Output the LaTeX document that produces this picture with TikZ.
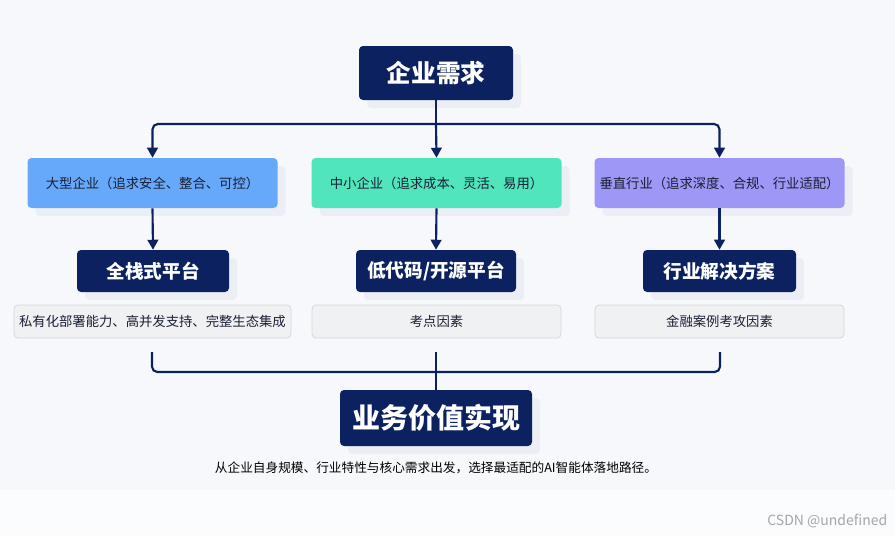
\documentclass[tikz,border=0pt]{standalone}
\usepackage{fontspec}
\setmainfont{Noto Sans CJK SC}
\usetikzlibrary{arrows.meta,shadows}
\definecolor{navy}{RGB}{12,33,96}
\definecolor{bgc}{RGB}{246,248,251}
\definecolor{bluebox}{RGB}{102,169,250}
\definecolor{greenbox}{RGB}{80,229,186}
\definecolor{purplebox}{RGB}{157,151,245}
\definecolor{graybox}{RGB}{240,241,243}
\definecolor{grayline}{RGB}{212,215,220}
\definecolor{txtdark}{RGB}{26,31,54}
\begin{document}
\begin{tikzpicture}[x=0.75pt,y=-0.75pt,
  softshadow/.style={general shadow={fill=black!60!blue,opacity=0.04,shadow xshift=6pt,shadow yshift=-6pt}},
  darkbox/.style={draw=none,fill=navy,rounded corners=3pt,text=white,font=\bfseries,inner sep=0pt,softshadow},
  colbox/.style={draw=none,rounded corners=3pt,text=txtdark,font=\fontsize{10pt}{12pt}\selectfont,minimum width=187.5pt,minimum height=37.5pt,inner sep=0pt,softshadow},
  graybx/.style={draw=grayline,line width=0.6pt,fill=graybox,rounded corners=3pt,text=txtdark,font=\fontsize{10pt}{12pt}\selectfont,minimum height=24.75pt,inner sep=0pt},
  conn/.style={draw=navy,line width=1.6pt,rounded corners=4pt},
  arr/.style={conn,-{Triangle[length=7.5pt,width=8pt]}}
]
\useasboundingbox (0,0) rectangle (895,536);
\fill[bgc] (0,0) rectangle (895,536);
\fill[white,opacity=0.6] (0,490) rectangle (895,536);

% top
\node[darkbox,minimum width=115.5pt,minimum height=40.5pt,font=\bfseries\fontsize{18.5pt}{20pt}\selectfont] (top) at (436,73) {企业需求};

% colored boxes
\node[colbox,fill=bluebox] (b1) at (152.5,183) {大型企业（追求安全、整合、可控）};
\node[colbox,fill=greenbox] (b2) at (436.5,183) {中小企业（追求成本、灵活、易用）};
\node[colbox,fill=purplebox] (b3) at (719.5,183) {垂直行业（追求深度、合规、行业适配）};

% dark platform boxes
\node[darkbox,minimum width=114pt,minimum height=31.5pt,font=\bfseries\fontsize{14pt}{16pt}\selectfont] (p1) at (153,271) {全栈式平台};
\node[darkbox,minimum width=120pt,minimum height=31.5pt,font=\bfseries\fontsize{14pt}{16pt}\selectfont] (p2) at (436,271) {低代码/开源平台};
\node[darkbox,minimum width=114.75pt,minimum height=31.5pt,font=\bfseries\fontsize{14pt}{16pt}\selectfont] (p3) at (719.5,271) {行业解决方案};

% gray boxes
\node[graybx,minimum width=207.75pt] (g1) at (152.5,321.5) {私有化部署能力、高并发支持、完整生态集成};
\node[graybx,minimum width=186.75pt] (g2) at (436.5,321.5) {考点因素};
\node[graybx,minimum width=186.75pt] (g3) at (719.5,321.5) {金融案例考攻因素};

% bottom
\node[darkbox,minimum width=144pt,minimum height=42pt,font=\bfseries\fontsize{21pt}{24pt}\selectfont] (bot) at (436,418) {业务价值实现};
\node[text=black,font=\fontsize{9.5pt}{11pt}\selectfont] (cap) at (436,468) {从企业自身规模、行业特性与核心需求出发，选择最适配的AI智能体落地路径。};
\node[text=black!35,font=\fontsize{10.5pt}{12pt}\selectfont,anchor=east] (wm) at (892,521) {CSDN @undefined};

% top connectors
\coordinate (jt) at (436,124);
\draw[conn] (top.south) -- (jt);
\draw[arr] (jt) -| (b1.north);
\draw[arr] (jt) -- (b2.north);
\draw[arr] (jt) -| (b3.north);

\draw[arr] (b1.south) -- (p1.north);
\draw[arr] (b2.south) -- (p2.north);
\draw[arr] (b3.south) -- (p3.north);

% bottom connectors
\coordinate (e1) at (152,352);
\coordinate (e2) at (436,352);
\coordinate (e3) at (720,352);
\coordinate (jb) at (436,372);
\draw[conn] (e1) |- (jb);
\draw[conn] (e3) |- (jb);
\draw[conn] (e2) -- (bot.north);
\end{tikzpicture}
\end{document}
